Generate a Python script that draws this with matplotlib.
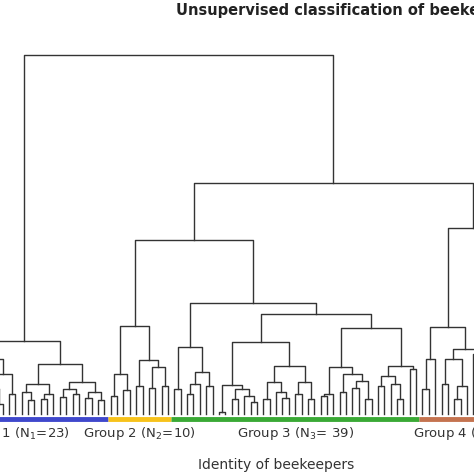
import matplotlib
matplotlib.use('Agg')
import matplotlib.pyplot as plt

L = 0
# tree nodes: (height, left, right); 0 = a beekeeper (leaf)
group1 = (73,
          (55, (30, (18, L, L), (22, L, L)), (40, (25, L, (10, L, L)), (20, L, L))),
          (50, (30, (22, L, (14, L, L)), (20, (15, L, L), L)),
               (32, (25, (17, L, L), (20, L, L)), (22, (16, L, L), (14, L, L)))))
group2 = (88, (40, (18, L, L), (24, L, L)),
          (54, (28, L, L), (47, (26, L, L), (28, L, L))))
group3 = (111,
          (67, (25, L, L), (42, (30, (20, L, L), L), (28, L, L))),
          (100,
           (72, (29, (2, L, L), (25, (15, L, L), (18, L, (12, L, L)))),
                (48, (32, (15, L, L), (22, L, (16, L, L))), (32, (20, L, L), (15, L, L)))),
           (86, (47, (20, (18, L, L), L), (40, (22, L, L), (33, (26, L, L), (15, L, L)))),
                (48, (38, (28, L, L), (30, L, (15, L, L))), (45, L, L)))))
group4 = (186,
          (87, (55, (25, L, L), L), (65, (55, (30, L, L), (28, (15, L, L), L)), (60, L, L))),
          (120, (70, L, L), (90, (50, L, L), (60, L, L))))
tree = (359, group1, (231, (174, group2, group3), group4))

group_labels = ['Group 1 (N$_1$=23)', 'Group 2 (N$_2$=10)', 'Group 3 (N$_3$= 39)', 'Group 4 (N$_4$=16)']
group_colors = ['#3f48cc', '#f7c21b', '#3aa935', '#c4734f']
groups = [group1, group2, group3, group4]


def count(node):
    if node == 0:
        return 1
    return count(node[1]) + count(node[2])


fig = plt.figure(figsize=(4.74, 4.74), dpi=100)
ax = fig.add_axes([0, 54 / 474, 1, 380 / 474])
counter = [0]


def draw(node):
    if node == 0:
        x = counter[0]
        counter[0] += 1
        return x, 0
    h, a, b = node
    xa, ha = draw(a)
    xb, hb = draw(b)
    ax.plot([xa, xa, xb, xb], [ha, h, h, hb], color='#333333', lw=1)
    return (xa + xb) / 2, h


draw(tree)

start = 0
for i, (g, lab, col) in enumerate(zip(groups, group_labels, group_colors)):
    n = count(g)
    ax.plot([start - 0.5, start + n - 0.5], [-5, -5], color=col, lw=3.5,
            solid_capstyle='butt', clip_on=False)
    if i == 0:
        xt, ha = 16.6, 'right'
    elif i == 3:
        xt, ha = 70.5, 'left'
    else:
        xt, ha = start + (n - 1) / 2, 'center'
    ax.text(xt, -19, lab, ha=ha, va='center',
            fontsize=9.5, color='#333333', clip_on=False)
    start += n

ax.set_xlim(5.6, 80.1)
ax.set_ylim(-6, 374)
ax.axis('off')

fig.text(0.74, 0.978, 'Unsupervised classification of beekeepers', ha='center',
         va='center', fontsize=10.5, fontweight='bold', color='#222222')
fig.text(0.582, 0.02, 'Identity of beekeepers', ha='center', va='center',
         fontsize=10, color='#333333')
fig.savefig('out.png', dpi=100)
